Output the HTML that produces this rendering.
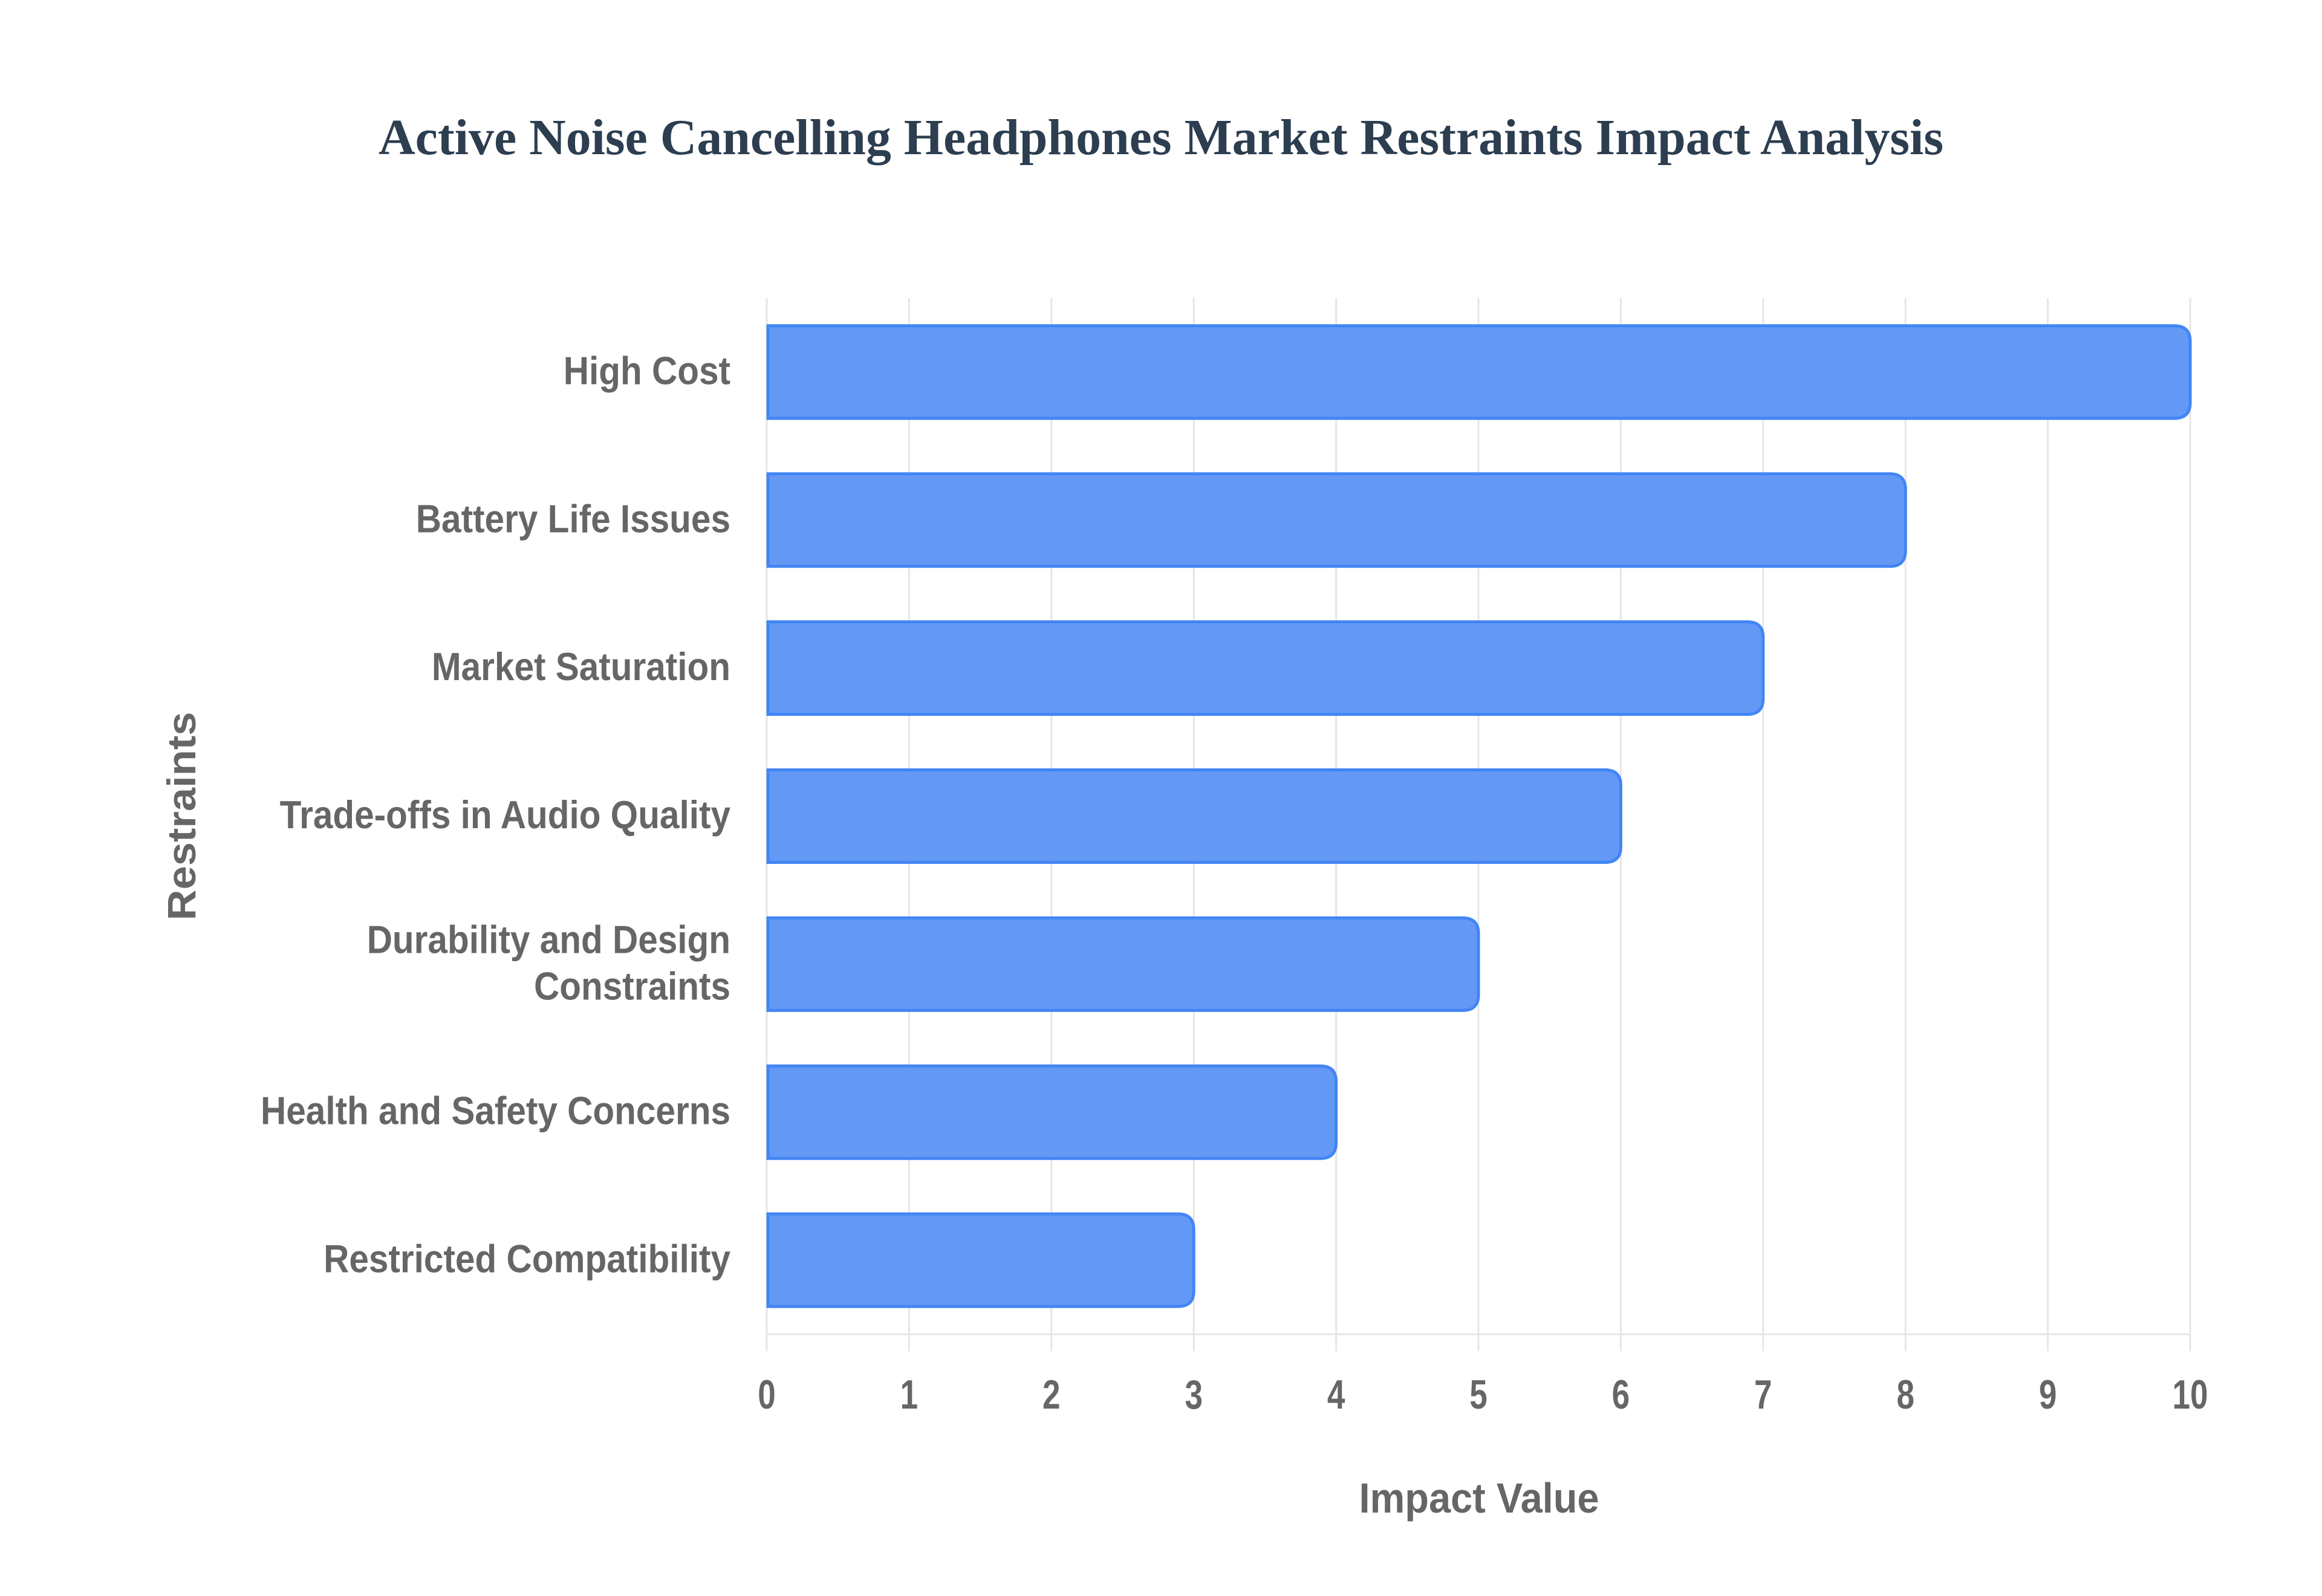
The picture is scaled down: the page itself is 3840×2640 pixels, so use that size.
<!DOCTYPE html>
<html><head><meta charset="utf-8">
<style>
html,body{margin:0;padding:0;background:#fff;}
svg{display:block;}
text{font-family:"Liberation Sans",sans-serif;}
</style></head>
<body>
<svg id="chart" width="3840" height="2640" viewBox="0 0 3840 2640" xmlns="http://www.w3.org/2000/svg">
  <rect width="3840" height="2640" fill="#ffffff"/>
  <text x="626" y="255" font-family="Liberation Serif, serif" font-weight="bold" font-size="84" fill="#2c3e50" textLength="2588" lengthAdjust="spacingAndGlyphs" style="font-family:'Liberation Serif',serif">Active Noise Cancelling Headphones Market Restraints Impact Analysis</text>
  <g id="grid"></g>
  <g id="bars"></g>
  <g id="ylabels"></g>
  <g id="xticks"></g>
  <text x="2446" y="2502" text-anchor="middle" font-weight="bold" font-size="70" fill="#666666" textLength="397" lengthAdjust="spacingAndGlyphs">Impact Value</text>
  <text transform="translate(323,1350) rotate(-90)" text-anchor="middle" font-weight="bold" font-size="66" fill="#666666" textLength="345" lengthAdjust="spacingAndGlyphs">Restraints</text>
</svg>
<script>
const categories = ["High Cost","Battery Life Issues","Market Saturation","Trade-offs in Audio Quality","Durability and Design|Constraints","Health and Safety Concerns","Restricted Compatibility"];
const values = [10, 8, 7, 6, 5, 4, 3];
const tickValues = [0,1,2,3,4,5,6,7,8,9,10];
const tickLabels = ["0","1","2","3","4","5","6","7","8","9","10"];

const NS = "http://www.w3.org/2000/svg";
const X0 = 1268, X1 = 3622, XMIN = 0, XMAX = 10;
const YTOP = 493, YBOT = 2207;
const band = (YBOT - YTOP) / categories.length;
const barH = band * 0.625;
function xScale(v){ return X0 + (v - XMIN) / (XMAX - XMIN) * (X1 - X0); }
function yCenter(i){ return YTOP + band * (i + 0.5); }
function mk(tag, attrs, parent){
  const el = document.createElementNS(NS, tag);
  for (const k in attrs) el.setAttribute(k, attrs[k]);
  parent.appendChild(el);
  return el;
}
const grid = document.getElementById('grid');
const barsG = document.getElementById('bars');
const ylab = document.getElementById('ylabels');
const xt = document.getElementById('xticks');

tickValues.forEach((t, i) => {
  const x = xScale(t);
  const gl = mk('line', {x1:x, x2:x, y1:YTOP, y2:YBOT+28, stroke:'#e6e6e6', 'stroke-width':3}, grid);
  
  
  const tl = mk('text', {x:x, y:2330, 'text-anchor':'middle', 'font-weight':'bold', 'font-size':68, fill:'#666666'}, xt);
  tl.textContent = tickLabels[i];
  
  
});
const axis = mk('line', {x1:X0, x2:X1, y1:YBOT, y2:YBOT, stroke:'#e6e6e6', 'stroke-width':3}, grid);



function barPath(x0, x1, y0, h, r){
  r = Math.min(r, (x1 - x0), h/2);
  return `M${x0},${y0} L${x1-r},${y0} Q${x1},${y0} ${x1},${y0+r} L${x1},${y0+h-r} Q${x1},${y0+h} ${x1-r},${y0+h} L${x0},${y0+h} Z`;
}

categories.forEach((c, i) => {
  const cy = yCenter(i);
  const p = mk('path', {d: barPath(xScale(0)+2, xScale(values[i]), cy - barH/2, barH, 26), fill:'#6399f5', stroke:'#4285f4', 'stroke-width':5}, barsG);
  
  
  const lines = c.split('|');
  lines.forEach((ln, j) => {
    const off = lines.length === 1 ? 0 : (j === 0 ? -38.5 : 38.5);
    const t = mk('text', {x:1208, y: cy + 20 + off, 'text-anchor':'end', 'font-weight':'bold', 'font-size':65, fill:'#666666'}, ylab);
    t.textContent = ln;
    
    
  });
});

// condense text to match reference proportions
ylab.querySelectorAll('text').forEach(t => {
  const w = t.getComputedTextLength();
  t.setAttribute('textLength', (w * 0.9).toFixed(1));
  t.setAttribute('lengthAdjust', 'spacingAndGlyphs');
});
xt.querySelectorAll('text').forEach(t => {
  const w = t.getComputedTextLength();
  t.setAttribute('textLength', (w * 0.78).toFixed(1));
  t.setAttribute('lengthAdjust', 'spacingAndGlyphs');
});
</script>
</body></html>
